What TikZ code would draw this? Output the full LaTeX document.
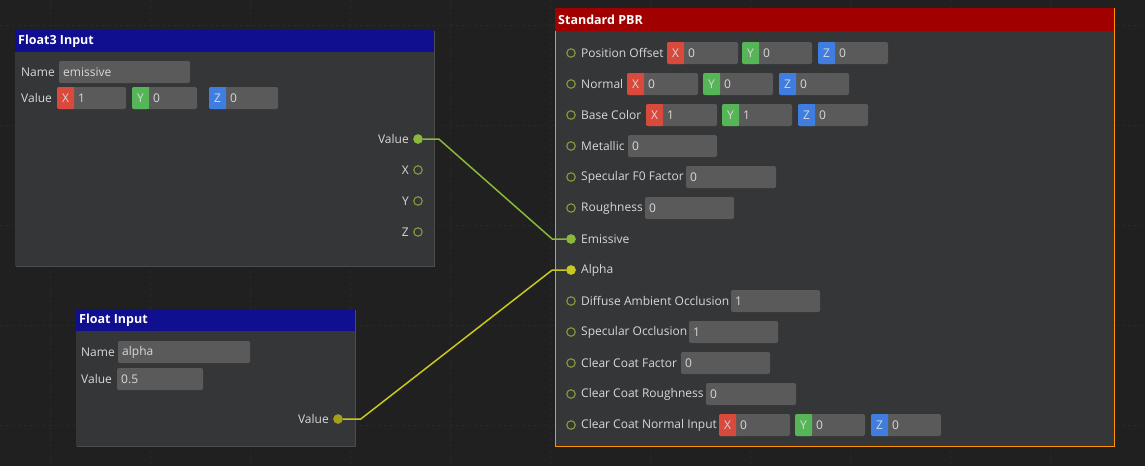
\documentclass[tikz,border=0pt]{standalone}
\usepackage{fontspec}
\setmainfont{Open Sans}
\definecolor{bg}{HTML}{202020}
\definecolor{grid}{HTML}{282828}
\definecolor{body}{HTML}{353638}
\definecolor{fieldc}{HTML}{5A5A5A}
\definecolor{txt}{HTML}{D8D8D8}
\definecolor{xr}{HTML}{D94A3D}
\definecolor{yg}{HTML}{55B557}
\definecolor{zb}{HTML}{3F7DE0}
\definecolor{hblue}{HTML}{0F0F8F}
\definecolor{hred}{HTML}{A00000}
\definecolor{pin}{HTML}{8A9A3A}
\definecolor{gw}{HTML}{8AB83A}
\definecolor{yw}{HTML}{C8C820}
\tikzset{
 lbl/.style={text=txt,font=\fontsize{12}{13}\selectfont,inner sep=0pt},
 ttl/.style={text=white,font=\fontsize{12.5}{13}\selectfont\bfseries,inner sep=0pt,anchor=west},
 pinc/.style={circle,draw=pin,line width=1.1pt,minimum size=8.5pt,inner sep=0pt},
 wire/.style={line width=1.5pt},
}
\newcommand\fieldbox[4]{\fill[fieldc,rounded corners=2pt] (#1,#3-11) rectangle (#2,#3+11);
 \node[lbl,anchor=west] at (#1+4,#3) {#4};}
\newcommand\cfield[6]{\fill[fieldc,rounded corners=2pt] (#1,#3-11) rectangle (#2,#3+11);
 \fill[#4,rounded corners=2pt] (#1,#3-11) rectangle (#1+17,#3+11);
 \fill[#4] (#1+10,#3-11) rectangle (#1+17,#3+11);
 \node[lbl] at (#1+8.5,#3) {#5};
 \node[lbl,anchor=west] at (#1+21,#3) {#6};}
\newcommand\xyz[7]{\cfield{#1}{#1+71}{#7}{xr}{X}{#4}\cfield{#2}{#2+70}{#7}{yg}{Y}{#5}\cfield{#3}{#3+70}{#7}{zb}{Z}{#6}}
\begin{document}
\begin{tikzpicture}[x=1pt,y=-1pt]
\fill[bg] (0,0) rectangle (1145,466);
\useasboundingbox (0,0) rectangle (1145,466);
\foreach \g in {50,150,...,1150} \draw[grid,dashed] (\g,0) -- (\g,466);
\foreach \g in {25,125,...,466} \draw[grid,dashed] (0,\g) -- (1145,\g);
% Float3 Input
\fill[black!70] (16,31) rectangle (435,267);
\fill[body] (15,30) rectangle (434,266);
\fill[hblue] (15,30) rectangle (434,52);
\node[ttl] (f3t) at (18,41) {Float3 Input};
\node[lbl,anchor=west] at (21,72) {Name};
\fieldbox{59}{190}{72}{emissive}
\node[lbl,anchor=west] at (21,98) {Value};
\cfield{57}{126}{98}{xr}{X}{1}
\cfield{132}{197}{98}{yg}{Y}{0}
\cfield{209}{278}{98}{zb}{Z}{0}
\node[pinc,fill=gw,draw=gw] (f3v) at (418,139) {};
\node[lbl,anchor=east] at (409,139) {Value};
\node[pinc] (f3x) at (418,170) {};\node[lbl,anchor=east] at (409,170) {X};
\node[pinc] (f3y) at (418,201) {};\node[lbl,anchor=east] at (409,201) {Y};
\node[pinc] (f3z) at (418,232) {};\node[lbl,anchor=east] at (409,232) {Z};
% Float Input
\fill[black!70] (77,310) rectangle (356,447);
\fill[body] (76,309) rectangle (355,446);
\fill[hblue] (76,309) rectangle (355,331);
\node[ttl] (ft) at (79,320) {Float Input};
\node[lbl,anchor=west] at (81,352) {Name};
\fieldbox{118}{250}{352}{alpha}
\node[lbl,anchor=west] at (81,379) {Value};
\fieldbox{117}{203}{379}{0.5}
\node[pinc,fill=yw!80!black,draw=yw!80!black] (fv) at (338,419) {};
\node[lbl,anchor=east] at (329,419) {Value};
% Standard PBR
\fill[body,draw=orange!85!yellow,line width=0.8pt] (555,8) rectangle (1114,446);
\fill[hred] (555.4,8.4) rectangle (1113.6,31);
\node[ttl] (pt) at (558,20) {Standard PBR};
\foreach \y/\t/\n in {53/Position Offset/p1,84/Normal/p2,115/Base Color/p3,146/Metallic/p4,177/Specular F0 Factor/p5,208/Roughness/p6,301/Diffuse Ambient Occlusion/p9,332/Specular Occlusion/p10,363/Clear Coat Factor/p11,394/Clear Coat Roughness/p12,425/Clear Coat Normal Input/p13}{
 \node[pinc] (\n) at (571,\y) {};
 \node[lbl,anchor=west] at (581,\y) {\t};}
\node[pinc,fill=gw,draw=gw] (pe) at (571,239) {};
\node[lbl,anchor=west] at (581,239) {Emissive};
\node[pinc,fill=yw,draw=yw] (pa) at (571,270) {};
\node[lbl,anchor=west] at (581,270) {Alpha};
\xyz{667}{742}{818}{0}{0}{0}{53}
\xyz{627}{703}{779}{0}{0}{0}{84}
\xyz{646}{722}{798}{1}{1}{0}{115}
\fieldbox{628}{717}{146}{0}
\fieldbox{686}{776}{177}{0}
\fieldbox{645}{734}{208}{0}
\fieldbox{731}{820}{301}{1}
\fieldbox{689}{778}{332}{1}
\fieldbox{681}{770}{363}{0}
\fieldbox{706}{796}{394}{0}
\xyz{719}{795}{871}{0}{0}{0}{425}
\draw[wire,gw] (f3v.east) -- ++(16,0) -- ([xshift=-14]pe.west) -- (pe.west);
\draw[wire,yw] (fv.east) -- ++(18,0) -- ([xshift=-14]pa.west) -- (pa.west);
\end{tikzpicture}
\end{document}
